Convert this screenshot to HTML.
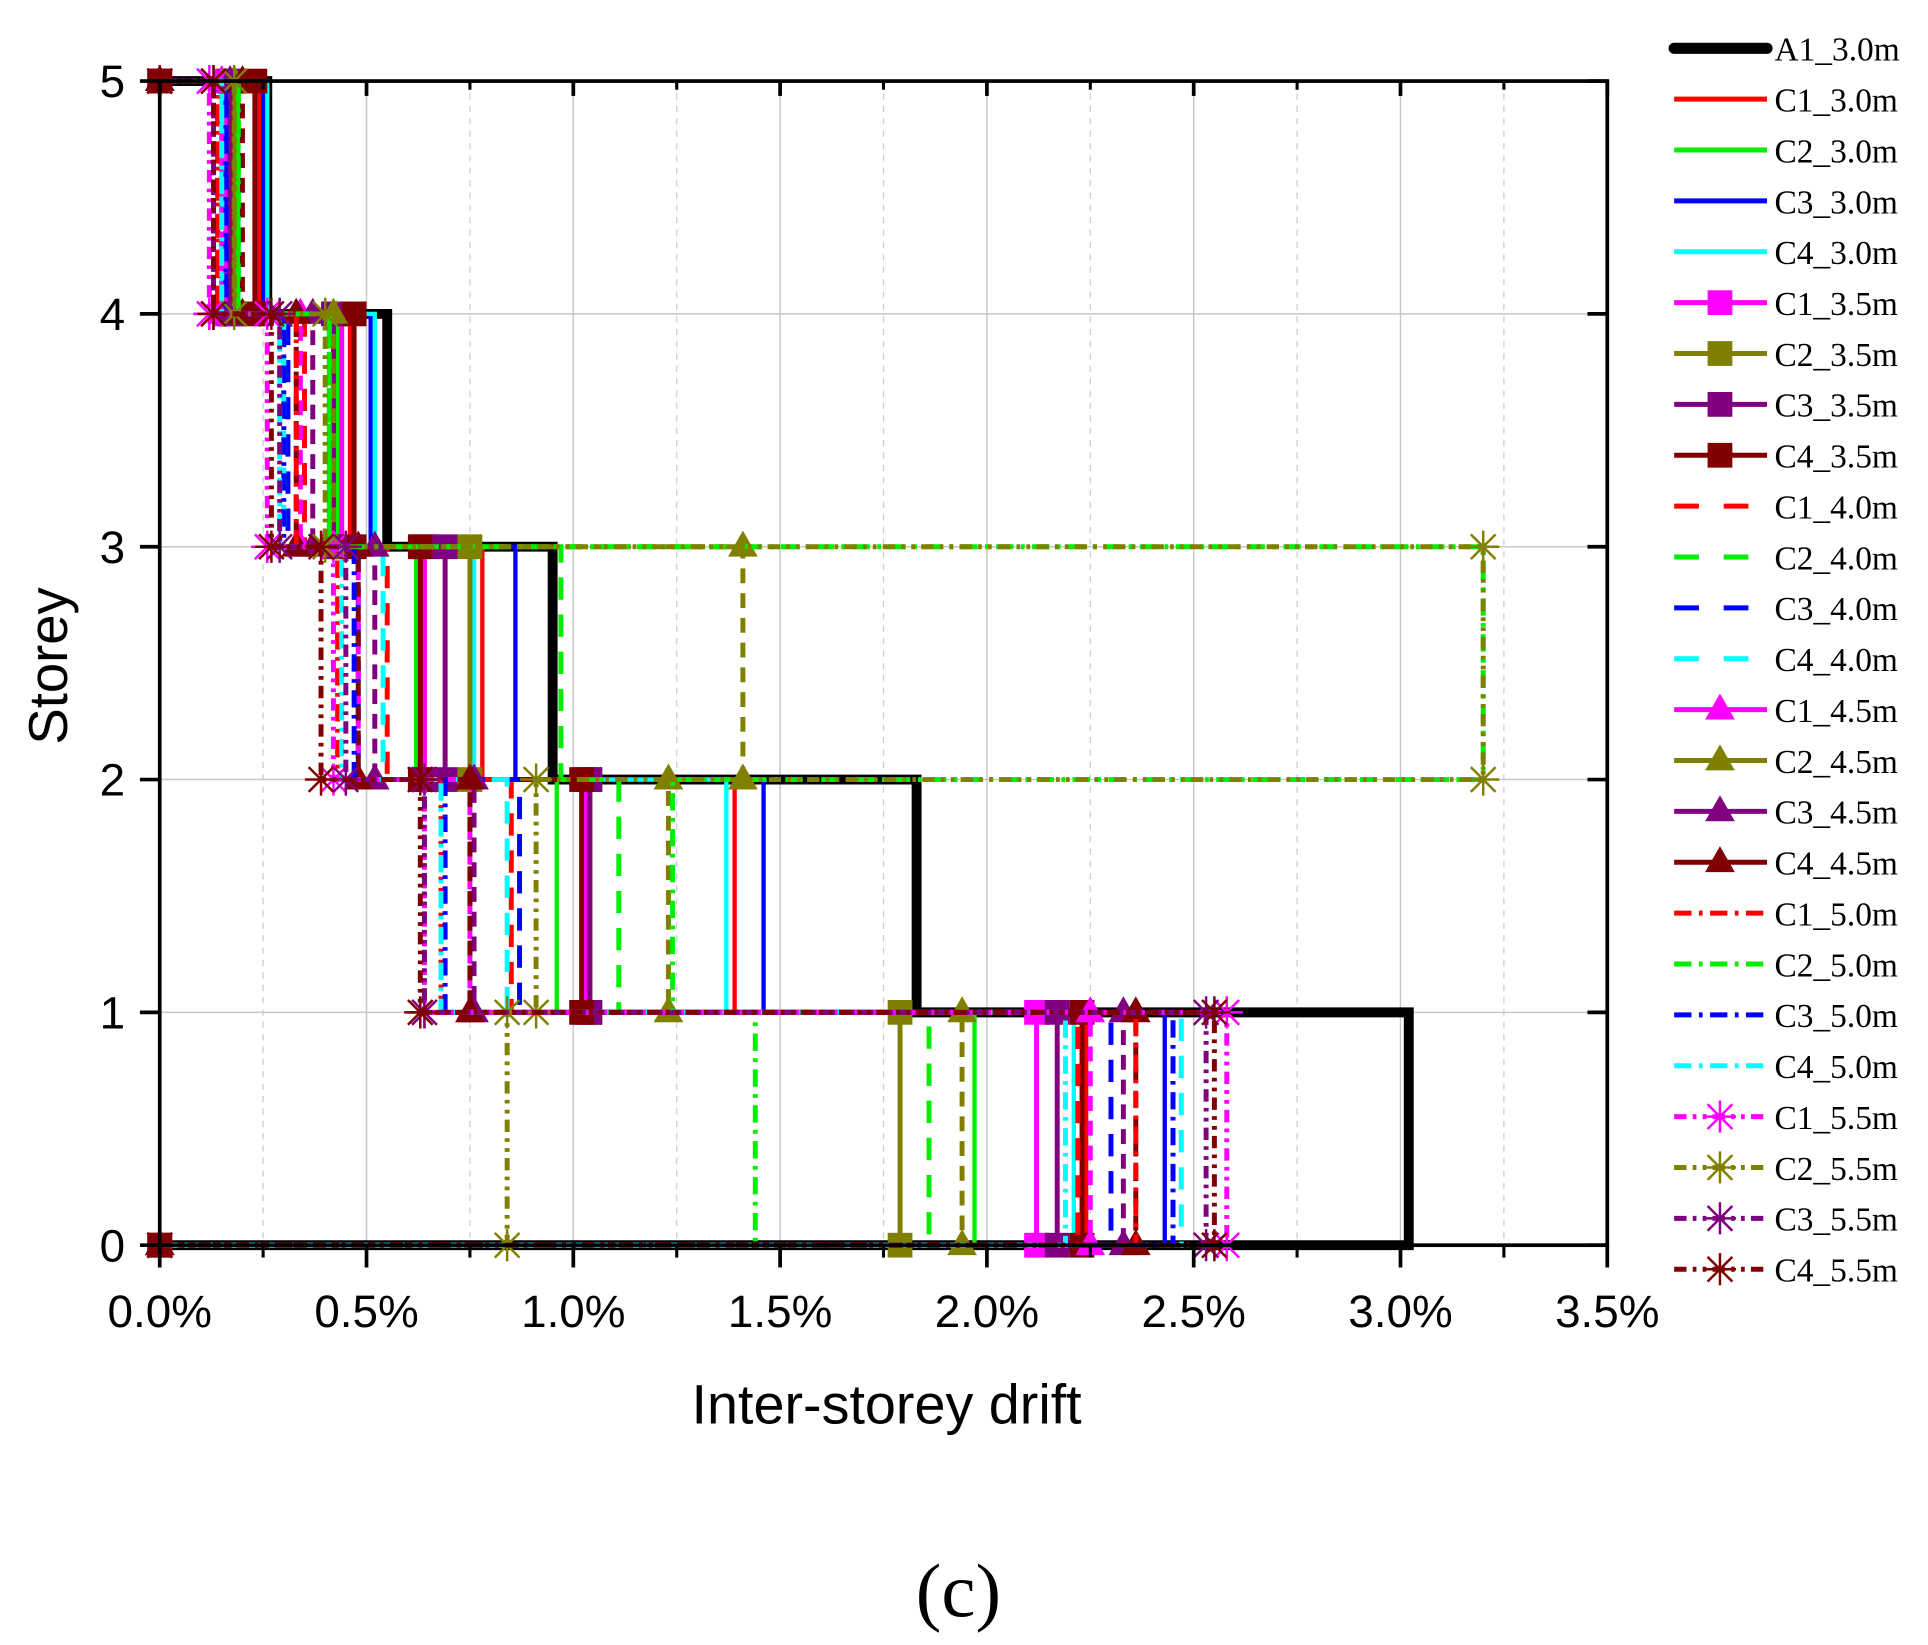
<!DOCTYPE html>
<html><head><meta charset="utf-8"><style>
html,body{margin:0;padding:0;background:#fff;}
svg{display:block;}
</style></head><body>
<svg id="chart" width="1928" height="1645" viewBox="0 0 1557 1329" preserveAspectRatio="none" xmlns="http://www.w3.org/2000/svg">
<g id="grid"></g>
<g id="series"></g>
<g id="axes"></g>
<g id="legend"></g>
<text x="0" y="0" transform="translate(54,538) rotate(-90)" text-anchor="middle" font-family="Liberation Sans, sans-serif" font-size="44">Storey</text>
<text x="716" y="1150" text-anchor="middle" font-family="Liberation Sans, sans-serif" font-size="45">Inter-storey drift</text>
<text x="774" y="1306" text-anchor="middle" font-family="Liberation Serif, serif" font-size="62">(c)</text>
</svg>
<script>
const xTicks = [0, 0.5, 1.0, 1.5, 2.0, 2.5, 3.0, 3.5];
const xTickLabels = ["0.0%","0.5%","1.0%","1.5%","2.0%","2.5%","3.0%","3.5%"];
const yTicks = [0, 1, 2, 3, 4, 5];
const seriesNames = ["A1_3.0m","C1_3.0m","C2_3.0m","C3_3.0m","C4_3.0m","C1_3.5m","C2_3.5m","C3_3.5m","C4_3.5m","C1_4.0m","C2_4.0m","C3_4.0m","C4_4.0m","C1_4.5m","C2_4.5m","C3_4.5m","C4_4.5m","C1_5.0m","C2_5.0m","C3_5.0m","C4_5.0m","C1_5.5m","C2_5.5m","C3_5.5m","C4_5.5m"];
// drift (%) for storeys 1..5
const A1_30 = [3.02, 1.83, 0.95, 0.55, 0.26];
const C1_30 = [2.24, 1.39, 0.78, 0.46, 0.24];
const C2_30 = [1.97, 0.96, 0.62, 0.43, 0.19];
const C3_30 = [2.43, 1.46, 0.86, 0.51, 0.25];
const C4_30 = [2.21, 1.37, 0.76, 0.52, 0.26];
const C1_35 = [2.12, 1.03, 0.64, 0.44, 0.16];
const C2_35 = [1.79, 1.04, 0.75, 0.42, 0.18];
const C3_35 = [2.17, 1.04, 0.69, 0.42, 0.17];
const C4_35 = [2.23, 1.02, 0.63, 0.47, 0.23];
const C1_40 = [2.22, 0.85, 0.55, 0.35, 0.14];
const C2_40 = [1.86, 1.11, 0.97, 0.41, 0.19];
const C3_40 = [2.30, 0.87, 0.48, 0.31, 0.16];
const C4_40 = [2.47, 0.84, 0.54, 0.30, 0.15];
const C1_45 = [2.25, 0.75, 0.48, 0.34, 0.15];
const C2_45 = [1.94, 1.23, 1.41, 0.42, 0.18];
const C3_45 = [2.33, 0.76, 0.52, 0.37, 0.17];
const C4_45 = [2.36, 0.75, 0.48, 0.33, 0.20];
const C1_50 = [2.36, 0.68, 0.43, 0.33, 0.14];
const C2_50 = [1.44, 1.24, 3.20, 0.41, 0.19];
const C3_50 = [2.45, 0.69, 0.47, 0.30, 0.16];
const C4_50 = [2.19, 0.68, 0.44, 0.29, 0.15];
const C1_55 = [2.58, 0.64, 0.42, 0.26, 0.12];
const C2_55 = [0.84, 0.91, 3.20, 0.40, 0.18];
const C3_55 = [2.53, 0.64, 0.45, 0.29, 0.13];
const C4_55 = [2.55, 0.63, 0.39, 0.27, 0.13];
const seriesValues = [A1_30,C1_30,C2_30,C3_30,C4_30,C1_35,C2_35,C3_35,C4_35,C1_40,C2_40,C3_40,C4_40,C1_45,C2_45,C3_45,C4_45,C1_50,C2_50,C3_50,C4_50,C1_55,C2_55,C3_55,C4_55];
const seriesColors = ["#000","#ff0000","#00ee00","#0000ff","#00ffff","#ff00ff","#808000","#800080","#800000","#ff0000","#00ee00","#0000ff","#00ffff","#ff00ff","#808000","#800080","#800000","#ff0000","#00ee00","#0000ff","#00ffff","#ff00ff","#808000","#800080","#800000"];

const NS="http://www.w3.org/2000/svg";
const X0=129, X1=1298, Y0=1006, Y1=65.5;
const xs = v => X0 + (v/3.5)*(X1-X0);
const ys = v => Y0 - (v/5)*(Y0-Y1);
function mk(tag, attrs, parent){const e=document.createElementNS(NS,tag);for(const k in attrs)e.setAttribute(k,attrs[k]);parent.appendChild(e);return e;}
const grid=document.getElementById('grid'), axes=document.getElementById('axes'), ser=document.getElementById('series'), leg=document.getElementById('legend');

for(let v=0.25; v<3.5; v+=0.5){
  const l=mk('line',{x1:xs(v),x2:xs(v),y1:Y1,y2:Y0,stroke:'#ccc','stroke-width':1,'stroke-dasharray':'5,5'},grid);
  
  
}
xTicks.forEach((v,i)=>{
  if(i>0&&i<xTicks.length-1){const g=mk('line',{x1:xs(v),x2:xs(v),y1:Y1,y2:Y0,stroke:'#c8c8c8','stroke-width':1.2},grid);
  
  }
  const t=mk('line',{x1:xs(v),x2:xs(v),y1:Y0,y2:Y0+18,stroke:'#000','stroke-width':3},axes);
  
  
  mk('line',{x1:xs(v),x2:xs(v),y1:Y1,y2:Y1+12,stroke:'#000','stroke-width':3},axes);
  const tx=mk('text',{x:xs(v),y:Y0+66,'text-anchor':'middle','font-family':'Liberation Sans, sans-serif','font-size':37},axes);
  tx.textContent=xTickLabels[i];
  
  
});
for(let v=0.25; v<3.5; v+=0.5){
  mk('line',{x1:xs(v),x2:xs(v),y1:Y0,y2:Y0+10,stroke:'#000','stroke-width':2.5},axes);
  mk('line',{x1:xs(v),x2:xs(v),y1:Y1,y2:Y1+7,stroke:'#000','stroke-width':2.5},axes);
}
yTicks.forEach(v=>{
  if(v>0&&v<5){const g=mk('line',{x1:X0,x2:X1,y1:ys(v),y2:ys(v),stroke:'#c8c8c8','stroke-width':1.2},grid);
  
  }
  mk('line',{x1:X0-16,x2:X0,y1:ys(v),y2:ys(v),stroke:'#000','stroke-width':3},axes);
  mk('line',{x1:X1-16,x2:X1,y1:ys(v),y2:ys(v),stroke:'#000','stroke-width':3},axes);
  const tx=mk('text',{x:X0-28,y:ys(v)+13,'text-anchor':'end','font-family':'Liberation Sans, sans-serif','font-size':37},axes);
  tx.textContent=String(v);
  
  
});
const frame=mk('rect',{x:X0,y:Y1,width:X1-X0,height:Y0-Y1,fill:'none',stroke:'#000','stroke-width':3},axes);



function styleFor(i){
  if(i===0) return {w:8,dash:null,mk:null};
  const g=Math.floor((i-1)/4);
  return [{w:3.5,dash:null,mk:null},{w:4,dash:null,mk:'sq'},{w:4,dash:'18,12',mk:null},{w:4,dash:'12,8',mk:'tri'},{w:4,dash:'14,6,3,6',mk:null},{w:4,dash:'10,5,3,5,3,5',mk:'star'}][g];
}
function marker(type,x,y,c,parent){
  let e;
  if(type==='sq'){e=mk('rect',{x:x-10,y:y-10,width:20,height:20,fill:c},parent);}
  else if(type==='tri'){e=mk('polygon',{points:`${x},${y-13} ${x-12},${y+8} ${x+12},${y+8}`,fill:c},parent);}
  else if(type==='star'){e=mk('path',{d:`M${x-13},${y}H${x+13}M${x},${y-13}V${y+13}M${x-10},${y-10}L${x+10},${y+10}M${x-10},${y+10}L${x+10},${y-10}`,stroke:c,'stroke-width':2,fill:'none'},parent);}
  return e;
}
seriesValues.forEach((vals,i)=>{
  const c=seriesColors[i], s=styleFor(i);
  const g=mk('g',{},ser);
  
  
  let d=`M${xs(0)},${ys(0)}`;
  vals.forEach((v,k)=>{d+=` L${xs(v)},${ys(k)} L${xs(v)},${ys(k+1)}`;});
  d+=` L${xs(0)},${ys(5)}`;
  const p=mk('path',{d:d,fill:'none',stroke:c,'stroke-width':s.w,'stroke-linejoin':'miter'},g);
  if(s.dash)p.setAttribute('stroke-dasharray',s.dash);
  if(s.mk){
    marker(s.mk,xs(0),ys(0),c,g);
    vals.forEach((v,k)=>{marker(s.mk,xs(v),ys(k),c,g);marker(s.mk,xs(v),ys(k+1),c,g);});
    marker(s.mk,xs(0),ys(5),c,g);
  }
});
seriesNames.forEach((n,i)=>{
  const y=39+i*41.1, c=seriesColors[i], s=styleFor(i);
  const g=mk('g',{},leg);
  
  
  const l=mk('line',{x1:1352,x2:1427,y1:y,y2:y,stroke:c,'stroke-width':i===0?9:4,'stroke-linecap':i===0?'round':'butt'},g);
  if(s.dash) l.setAttribute('stroke-dasharray', i>=9&&i<=12?'20,20':(i>=13&&i<=16?'80,0':s.dash));
  if(s.mk) marker(s.mk,1389,y,c,g);
  const t=mk('text',{x:1433,y:y+10,'font-family':'Liberation Serif, serif','font-size':27},g);
  t.textContent=n;
});
</script>
</body></html>
